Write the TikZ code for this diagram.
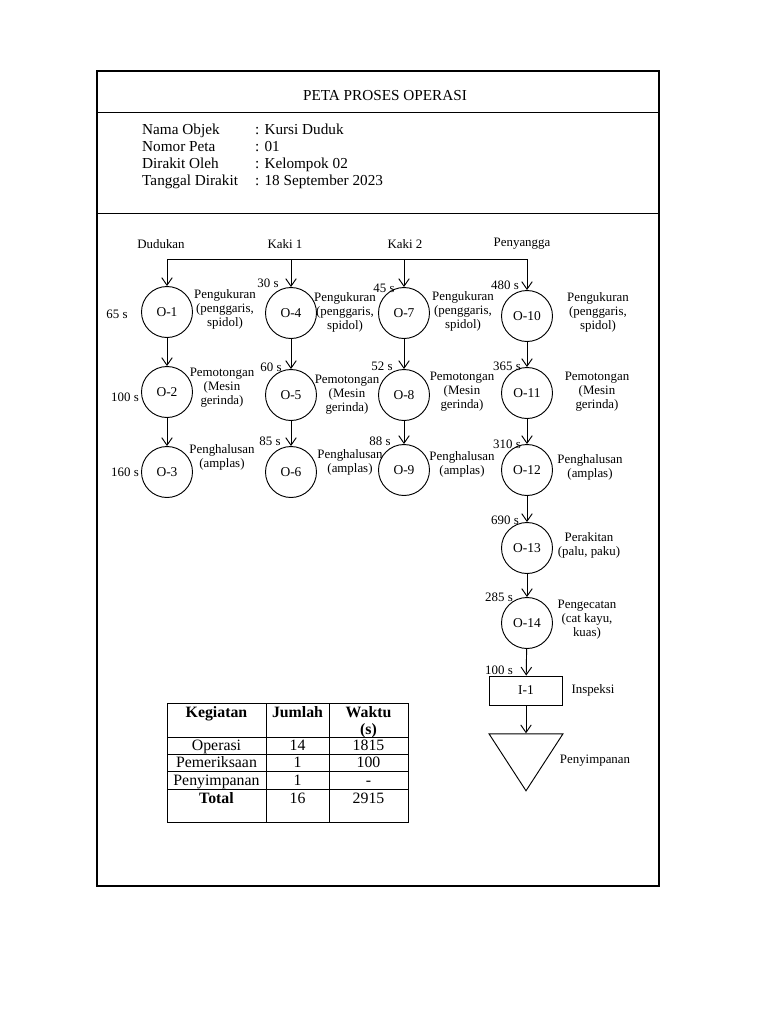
\documentclass[tikz,border=0pt]{standalone}
\usepackage{fontspec}
\setmainfont{Liberation Serif}
\usetikzlibrary{positioning}
\usetikzlibrary{shapes.geometric}
\usetikzlibrary{arrows.meta}

\tikzset{
  opr/.style={circle, draw, line width=0.8pt, minimum size=1.53cm, inner sep=0pt, font=\fontsize{11.5}{12}\selectfont},
  insp/.style={rectangle, draw, line width=0.8pt, minimum width=2.2cm, minimum height=0.87cm, inner sep=0pt, font=\fontsize{11.5}{12}\selectfont},
  stor/.style={isosceles triangle, isosceles triangle stretches, shape border rotate=-90, draw, line width=0.8pt, minimum width=2.22cm, minimum height=1.71cm, inner sep=0pt},
  lbl/.style={font=\fontsize{11}{12}\selectfont, inner sep=1pt},
  desc/.style={lbl, align=center},
  info/.style={font=\fontsize{13}{15}\selectfont, anchor=base west, inner sep=0pt},
  tab/.style={font=\fontsize{13.5}{15}\selectfont, inner sep=0pt, anchor=base},
  flow/.style={->, line width=0.8pt},
}

\begin{document}
\begin{tikzpicture}[x=0.03cm, y=-0.03cm, >={Straight Barb[length=6.5pt,width=9pt]}]
    \useasboundingbox (0,0) rectangle (768,1024);

    % Frame
    \draw[line width=1.3pt] (97,71) rectangle (659,886);
    \draw[line width=0.8pt] (97,112) -- (659,112);
    \draw[line width=0.8pt] (97,213) -- (659,213);

    % Header
    \node[font=\fontsize{13}{15}\selectfont] (judul) at (385,96) {PETA PROSES OPERASI};
    \node[info] (nama) at (142,134) {Nama Objek};
    \node[info] (nomor) at (142,151) {Nomor Peta};
    \node[info] (oleh) at (142,168) {Dirakit Oleh};
    \node[info] (tgl) at (142,185) {Tanggal Dirakit};
    \node[info] (namav) at (255,134) {: Kursi Duduk};
    \node[info] (nomorv) at (255,151) {: 01};
    \node[info] (olehv) at (255,168) {: Kelompok 02};
    \node[info] (tglv) at (255,185) {: 18 September 2023};

    % Parts
    \node[lbl] (dudukan) at (161,244) {Dudukan};
    \node[lbl] (kaki1) at (285,244) {Kaki 1};
    \node[lbl] (kaki2) at (405,244) {Kaki 2};
    \node[lbl] (penyangga) at (522,244) {Penyangga};

    % Operations
    \node[opr] (o1) at (167,312) {O-1};
    \node[opr] (o2) at (167,392) {O-2};
    \node[opr] (o3) at (167,472) {O-3};
    \node[opr] (o4) at (291,313) {O-4};
    \node[opr] (o5) at (291,395) {O-5};
    \node[opr] (o6) at (291,472) {O-6};
    \node[opr] (o7) at (404,313) {O-7};
    \node[opr] (o8) at (404,395) {O-8};
    \node[opr] (o9) at (404,470) {O-9};
    \node[opr] (o10) at (527,316) {O-10};
    \node[opr] (o11) at (527,393) {O-11};
    \node[opr] (o12) at (527,470) {O-12};
    \node[opr] (o13) at (527,548) {O-13};
    \node[opr] (o14) at (527,623) {O-14};
    \node[insp] (i1) at (526,690.5) {I-1};
    \node[stor, anchor=apex] (simpan) at (526,792) {};

    % Flow lines
    \coordinate (b1) at (167,259);
    \coordinate (b2) at (291,259);
    \coordinate (b3) at (404,259);
    \coordinate (b4) at (527,259);
    \draw[line width=0.8pt] (b1) -- (b4);
    \draw[flow] (b1) -- (o1);
    \draw[flow] (b2) -- (o4);
    \draw[flow] (b3) -- (o7);
    \draw[flow] (b4) -- (o10);
    \draw[flow] (o1) -- (o2);
    \draw[flow] (o2) -- (o3);
    \draw[flow] (o4) -- (o5);
    \draw[flow] (o5) -- (o6);
    \draw[flow] (o7) -- (o8);
    \draw[flow] (o8) -- (o9);
    \draw[flow] (o10) -- (o11);
    \draw[flow] (o11) -- (o12);
    \draw[flow] (o12) -- (o13);
    \draw[flow] (o13) -- (o14);
    \draw[flow] (o14) -- (i1);
    \draw[flow] (i1) -- (simpan.north);

    % Times
    \node[lbl] (w1) at (117,314) {65 s};
    \node[lbl] (w2) at (125,397) {100 s};
    \node[lbl] (w3) at (125,472) {160 s};
    \node[lbl] (w4) at (268,283) {30 s};
    \node[lbl] (w5) at (271,367) {60 s};
    \node[lbl] (w6) at (270,441) {85 s};
    \node[lbl] (w7) at (384,288) {45 s};
    \node[lbl] (w8) at (382,366) {52 s};
    \node[lbl] (w9) at (380,441) {88 s};
    \node[lbl] (w10) at (505,285) {480 s};
    \node[lbl] (w11) at (507,366) {365 s};
    \node[lbl] (w12) at (507,444) {310 s};
    \node[lbl] (w13) at (505,520) {690 s};
    \node[lbl] (w14) at (499,597) {285 s};
    \node[lbl] (w15) at (499,670) {100 s};

    % Descriptions
    \node[desc] (d1) at (225,309) {Pengukuran\\(penggaris,\\spidol)};
    \node[desc] (d2) at (222,388) {Pemotongan\\(Mesin\\gerinda)};
    \node[desc] (d3) at (222,457) {Penghalusan\\(amplas)};
    \node[desc] (d4) at (345,312) {Pengukuran\\(penggaris,\\spidol)};
    \node[desc] (d5) at (347,395) {Pemotongan\\(Mesin\\gerinda)};
    \node[desc] (d6) at (350,462) {Penghalusan\\(amplas)};
    \node[desc] (d7) at (463,311) {Pengukuran\\(penggaris,\\spidol)};
    \node[desc] (d8) at (462,392) {Pemotongan\\(Mesin\\gerinda)};
    \node[desc] (d9) at (462,464) {Penghalusan\\(amplas)};
    \node[desc] (d10) at (598,312) {Pengukuran\\(penggaris,\\spidol)};
    \node[desc] (d11) at (597,392) {Pemotongan\\(Mesin\\gerinda)};
    \node[desc] (d12) at (590,467) {Penghalusan\\(amplas)};
    \node[desc] (d13) at (589,545) {Perakitan\\(palu, paku)};
    \node[desc] (d14) at (587,620) {Pengecatan\\(cat kayu,\\kuas)};
    \node[lbl] (d15) at (593,690) {Inspeksi};
    \node[lbl] (d16) at (595,761) {Penyimpanan};

    % Summary table
    \draw[line width=0.7pt] (167,703) rectangle (408,822);
    \draw[line width=0.7pt] (266,703) -- (266,822);
    \draw[line width=0.7pt] (329,703) -- (329,822);
    \draw[line width=0.7pt] (167,737) -- (408,737);
    \draw[line width=0.7pt] (167,754) -- (408,754);
    \draw[line width=0.7pt] (167,771) -- (408,771);
    \draw[line width=0.7pt] (167,789) -- (408,789);
    \node[tab] (h1) at (216.5,717) {\textbf{Kegiatan}};
    \node[tab] (h2) at (297.5,717) {\textbf{Jumlah}};
    \node[tab] (h3) at (368.5,717) {\textbf{Waktu}};
    \node[tab] (h3b) at (368.5,734) {\textbf{(s)}};
    \node[tab] (r1a) at (216.5,750.5) {Operasi};
    \node[tab] (r1b) at (297.5,750.5) {14};
    \node[tab] (r1c) at (368.5,750.5) {1815};
    \node[tab] (r2a) at (216.5,767.5) {Pemeriksaan};
    \node[tab] (r2b) at (297.5,767.5) {1};
    \node[tab] (r2c) at (368.5,767.5) {100};
    \node[tab] (r3a) at (216.5,785) {Penyimpanan};
    \node[tab] (r3b) at (297.5,785) {1};
    \node[tab] (r3c) at (368.5,785) {-};
    \node[tab] (r4a) at (216.5,803) {\textbf{Total}};
    \node[tab] (r4b) at (297.5,803) {16};
    \node[tab] (r4c) at (368.5,803) {2915};
\end{tikzpicture}
\end{document}
